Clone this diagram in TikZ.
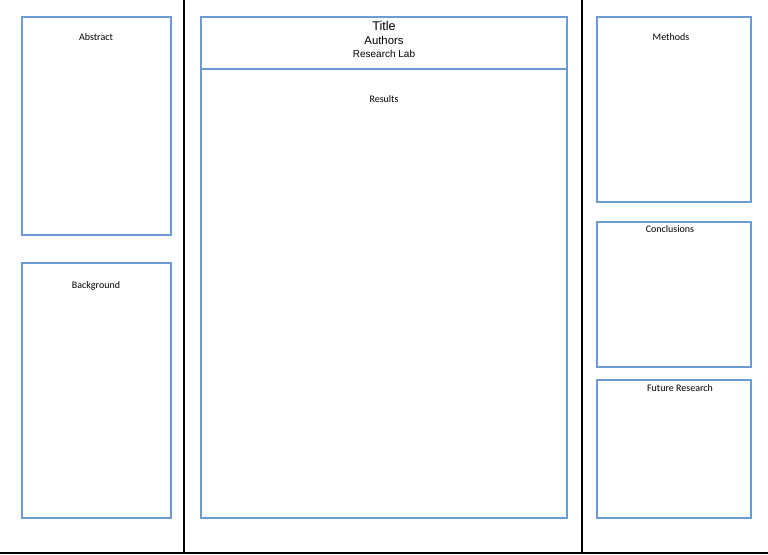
\documentclass[tikz,border=0pt]{standalone}
\usepackage{fontspec}
\setmainfont{Carlito}
\newfontfamily\arialfont{Liberation Sans}
\definecolor{PanelBlue}{HTML}{6C9BD3}
\tikzset{
  panel/.style={draw=PanelBlue,line width=0.8pt},
  heading/.style={font=\fontsize{7.5}{9}\selectfont,inner sep=0pt},
  rule/.style={draw=black,line width=0.8pt}
}

\begin{document}
\begin{tikzpicture}[x=0.75pt,y=-0.75pt]
  \useasboundingbox (0,0) rectangle (768,555);
  % columns
  \draw[rule] (0,553) -- (768,553);
  \draw[rule] (184,0) -- (184,553); \draw[rule] (582,0) -- (582,553);
  % left column
  \draw[panel] (22,17) rectangle (171,235); \node[heading] (abstract) at (96,37.5) {Abstract};
  \draw[panel] (22,263) rectangle (171,518); \node[heading] (background) at (96,285.5) {Background};
  % middle column
  \draw[panel] (201,17) rectangle (567,69); \draw[panel] (201,69) rectangle (567,518);
  \node[heading,font=\arialfont\fontsize{9.5}{11}\selectfont] (title) at (384,25.5) {Title};
  \node[heading,font=\arialfont\fontsize{8.5}{10}\selectfont] (authors) at (384,40.5) {Authors};
  \node[heading,font=\arialfont\fontsize{7.5}{9}\selectfont] (lab) at (384,53.5) {Research Lab};
  \node[heading] (results) at (384,99.5) {Results};
  % right column
  \draw[panel] (597,17) rectangle (751,202); \node[heading] (methods) at (671,37.5) {Methods};
  \draw[panel] (597,222) rectangle (751,367); \node[heading] (conclusions) at (670,229.5) {Conclusions};
  \draw[panel] (597,380) rectangle (751,518); \node[heading] (future) at (680,388.5) {Future Research};
\end{tikzpicture}
\end{document}
